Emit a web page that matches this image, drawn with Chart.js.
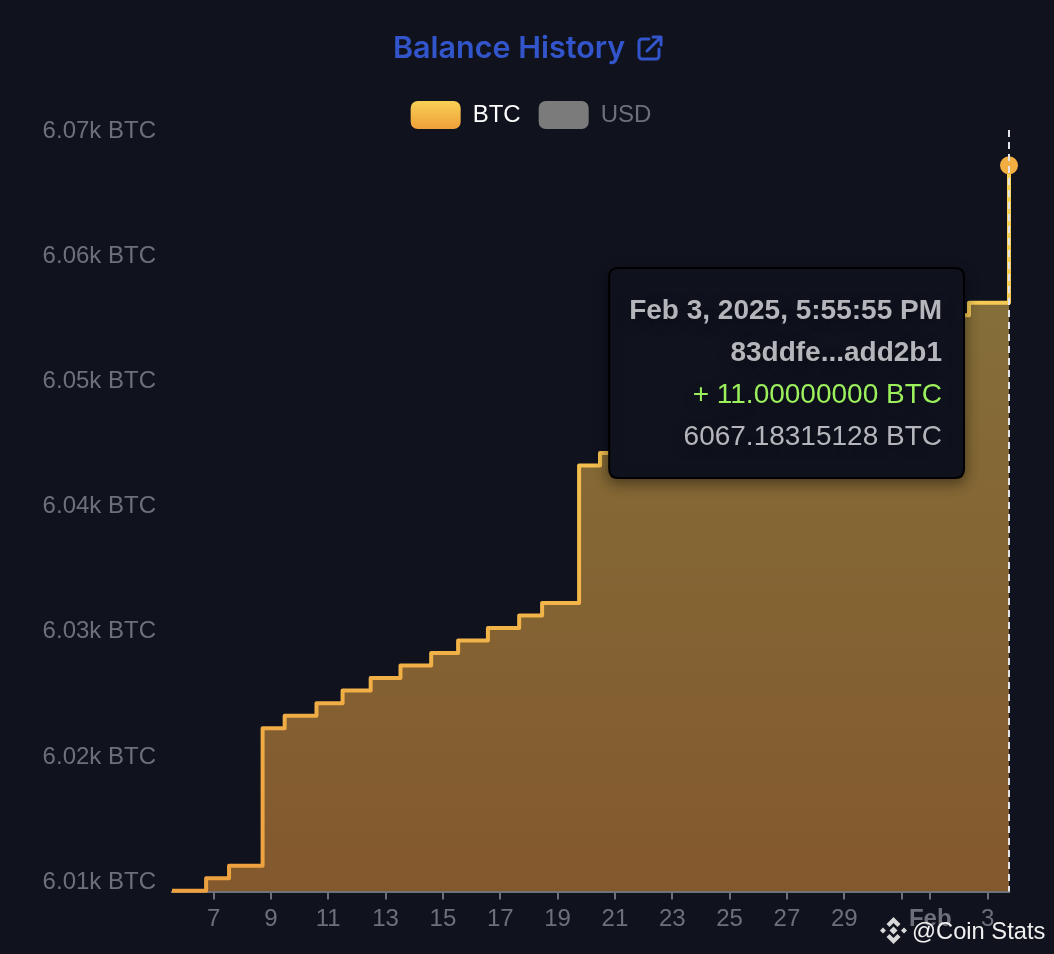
<!DOCTYPE html>
<html>
<head>
<meta charset="utf-8">
<title>Balance History</title>
<script src="https://cdn.jsdelivr.net/npm/chart.js@4/dist/chart.umd.js"></script>
<style>
  html, body { margin: 0; padding: 0; background: #10131e; }
  #wrap { position: relative; width: 1054px; height: 954px; overflow: hidden; }
  #myChart { position: absolute; left: 0; top: 0; }
  #title { position: absolute; left: 393px; top: 28px; height: 40px; line-height: 40px; white-space: nowrap;
    font: 600 30.5px Inter, sans-serif; color: #3355cb; }
  #titleIcon { position: absolute; left: 636px; top: 34px; }
  #mark { position: absolute; left: 912px; top: 917px; font: 23.7px "Liberation Sans", sans-serif; line-height: 28px; color: #f0f0f0; white-space: nowrap; }
  #markIcon { position: absolute; left: 880px; top: 917px; }
</style>
</head>
<body>
<div id="wrap">
  <canvas id="myChart" width="1054" height="954"></canvas>
  <div id="title">Balance History</div>
  <svg id="titleIcon" width="28" height="28" viewBox="0 0 28 28" fill="none" stroke="#3355cb" stroke-width="3" stroke-linecap="round" stroke-linejoin="round">
    <path d="M13 5H6a3 3 0 0 0-3 3v14a3 3 0 0 0 3 3h14a3 3 0 0 0 3-3v-7"/>
    <path d="M11 17L25 3M17 3h8v8"/>
  </svg>
  <svg id="markIcon" width="27" height="27" viewBox="0 0 27 27" fill="#d8d8d8">
    <path d="M13.500 0l7 7-3 3-4-4-4 4-3-3zM13.500 27l7-7-3-3-4 4-4-4-3 3zM0 13.500l3-3 3 3-3 3zM21 13.500l3-3 3 3-3 3zM13.500 9.500l4 4-4 4-4-4z"/>
  </svg>
  <div id="mark">@Coin Stats</div>
</div>
<script>
// days counted from Dec 31, so Jan 7 = 7 and Feb 3 = 34
const txDays = [5.55, 6.74, 7.54, 8.71, 9.48, 10.59, 11.50, 12.48, 13.52, 14.59, 15.53, 16.57, 17.66, 18.46,
  19.75, 20.48, 21.5, 22.5, 23.5, 24.5, 25.5, 26.5, 27.5, 28.5, 29.5, 30.5, 31.5, 33.35, 34.746]
const btcBalance = [6009.18, 6010.18, 6011.18, 6022.18, 6023.18, 6024.18, 6025.18, 6026.18, 6027.18, 6028.18,
  6029.18, 6030.18, 6031.18, 6032.18, 6043.18, 6044.18, 6045.18, 6046.18, 6047.18, 6048.18, 6049.18, 6050.18,
  6051.18, 6052.18, 6053.18, 6054.18, 6055.18, 6056.18, 6067.18]
const xTickValues = [7, 9, 11, 13, 15, 17, 19, 21, 23, 25, 27, 29, 31, 32, 34]
const xTickLabels = ['7', '9', '11', '13', '15', '17', '19', '21', '23', '25', '27', '29', '', 'Feb', '3']
const yTickValues = [6010, 6020, 6030, 6040, 6050, 6060, 6070]
const yTickLabels = ['6.01k BTC', '6.02k BTC', '6.03k BTC', '6.04k BTC', '6.05k BTC', '6.06k BTC', '6.07k BTC']
const seriesNames = ['BTC', 'USD']
const tooltipTitle = ['Feb 3, 2025, 5:55:55 PM', '83ddfe...add2b1']
const tooltipChange = '+ 11.00000000 BTC'
const tooltipTotal = '6067.18315128 BTC'

const FONT = '"Liberation Sans", sans-serif'
const GREY = '#6d7079'
const last = txDays.length - 1

function areaGradient(chart, top, bottom) {
  const g = chart.ctx.createLinearGradient(0, chart.chartArea.top, 0, chart.chartArea.bottom)
  g.addColorStop(0, top)
  g.addColorStop(1, bottom)
  return g
}

Chart.Tooltip.positioners.fixedBox = function () {
  return { x: 964, y: 373 }
}

// dashed crosshair at the active point
const crosshair = {
  id: 'crosshair',
  afterLayout(chart) {
    // y labels stick out past the padded left edge, keep them from being clipped
    chart.scales.y.left = 0
  },
  afterDatasetsDraw(chart) {
    const x = chart.scales.x.getPixelForValue(txDays[last])
    const c = chart.ctx
    c.save()
    c.strokeStyle = '#e4e4e8'
    c.lineWidth = 2
    c.setLineDash([7, 5])
    c.beginPath()
    c.moveTo(x, chart.chartArea.top)
    c.lineTo(x, chart.chartArea.bottom)
    c.stroke()
    c.restore()
  },
  beforeTooltipDraw(chart) {
    chart.ctx.save()
    chart.ctx.shadowColor = 'rgba(0,0,0,0.45)'
    chart.ctx.shadowBlur = 14
    chart.ctx.shadowOffsetY = 4
  },
  afterTooltipDraw(chart) {
    chart.ctx.restore()
  }
}

const chart = new Chart(document.getElementById('myChart').getContext('2d'), {
  type: 'line',
  plugins: [crosshair],
  data: {
    datasets: [{
      label: seriesNames[0],
      data: txDays.map((d, i) => ({ x: d, y: btcBalance[i] })),
      stepped: true,
      fill: 'start',
      clip: false,
      borderWidth: 4,
      borderJoinStyle: 'round',
      borderColor: ctx => ctx.chart.chartArea ? areaGradient(ctx.chart, '#f8d85a', '#eea03f') : '#f0b040',
      backgroundColor: ctx => ctx.chart.chartArea ? areaGradient(ctx.chart, 'rgba(250,215,90,0.5)', 'rgba(245,158,60,0.5)') : 'transparent',
      pointRadius: ctx => ctx.dataIndex === last ? 9 : 0,
      pointHoverRadius: ctx => ctx.dataIndex === last ? 9 : 0,
      pointBackgroundColor: '#f3ae42',
      pointHoverBackgroundColor: '#f3ae42',
      pointBorderWidth: 0,
      pointHoverBorderWidth: 0
    }]
  },
  options: {
    responsive: false,
    animation: false,
    events: [],
    layout: { padding: { left: 53, right: 45, top: 83, bottom: 0 } },
    scales: {
      x: {
        type: 'linear',
        min: txDays[0],
        max: txDays[last],
        afterBuildTicks: axis => { axis.ticks = xTickValues.map(value => ({ value })) },
        afterFit: axis => { axis.height = 62.5 },
        grid: { drawOnChartArea: false, drawTicks: true, tickLength: 8, color: GREY, lineWidth: 2 },
        border: { color: GREY, width: 2 },
        ticks: {
          autoSkip: false,
          maxRotation: 0,
          padding: 5,
          color: GREY,
          font: ctx => ({ family: FONT, size: 24, weight: xTickLabels[ctx.index] === 'Feb' ? 'bold' : 'normal' }),
          callback: (value, index) => xTickLabels[index]
        }
      },
      y: {
        min: 6009.12,
        max: 6070,
        afterBuildTicks: axis => { axis.ticks = yTickValues.map(value => ({ value })) },
        afterFit: axis => { axis.width = 119 },
        grid: { display: false, drawTicks: false },
        border: { display: false },
        ticks: {
          autoSkip: false,
          padding: 16,
          labelOffset: 1.5,
          color: GREY,
          font: { family: FONT, size: 24 },
          callback: (value, index) => yTickLabels[index]
        }
      }
    },
    plugins: {
      title: { display: false },
      legend: {
        position: 'top',
        maxHeight: 47,
        onClick: null,
        labels: {
          boxWidth: 50,
          boxHeight: 28,
          padding: 18,
          useBorderRadius: true,
          borderRadius: 7,
          font: { family: FONT, size: 24 },
          generateLabels: c => {
            const g = c.ctx.createLinearGradient(0, 101, 0, 129)
            g.addColorStop(0, '#f8d154')
            g.addColorStop(1, '#ef9f3a')
            return [
              { text: seriesNames[0], fillStyle: g, strokeStyle: 'transparent', lineWidth: 0, fontColor: '#ffffff', borderRadius: 7, datasetIndex: 0 },
              { text: seriesNames[1], fillStyle: '#7b7b7b', strokeStyle: 'transparent', lineWidth: 0, fontColor: GREY, borderRadius: 7, datasetIndex: 1 }
            ]
          }
        }
      },
      tooltip: {
        enabled: true,
        position: 'fixedBox',
        xAlign: 'right',
        yAlign: 'center',
        caretSize: 0,
        caretPadding: 0,
        backgroundColor: '#10131e',
        borderColor: '#000000',
        borderWidth: 2,
        cornerRadius: 9,
        padding: { left: 20, right: 22, top: 29, bottom: 27 },
        displayColors: false,
        titleAlign: 'right',
        bodyAlign: 'right',
        footerAlign: 'right',
        titleColor: '#b5b6bb',
        footerColor: '#b5b6bb',
        titleFont: { family: FONT, size: 28, weight: 'bold', lineHeight: 1 },
        bodyFont: { family: FONT, size: 28, lineHeight: 1 },
        footerFont: { family: FONT, size: 28, weight: 'normal', lineHeight: 1 },
        titleSpacing: 14,
        titleMarginBottom: 14,
        footerMarginTop: 14,
        callbacks: {
          title: () => tooltipTitle,
          label: () => tooltipChange,
          labelTextColor: () => '#9cf05c',
          footer: () => tooltipTotal
        }
      }
    }
  }
})

const active = [{ datasetIndex: 0, index: last }]
chart.setActiveElements(active)
chart.tooltip.setActiveElements(active, { x: 0, y: 0 })
chart.update()
</script>
</body>
</html>
